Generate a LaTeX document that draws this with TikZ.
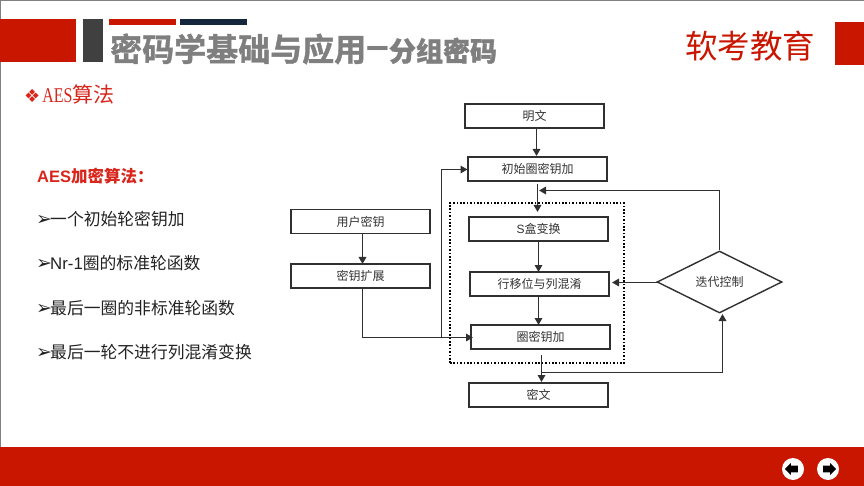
\documentclass[tikz,border=0pt]{standalone}
\usepackage{fontspec}
\usepackage{graphicx}
\setmainfont{Liberation Sans}
\newfontfamily\cjk{Noto Sans CJK SC}
\newfontfamily\cjkb{Noto Sans CJK SC Bold}
\newfontfamily\titlefont[FakeBold=1.2]{Noto Sans CJK SC Bold}
\newfontfamily\serifl{Liberation Serif}
\newfontfamily\dejavu{DejaVu Sans}
\usetikzlibrary{arrows.meta,shapes.geometric,shapes.arrows}
\definecolor{brandred}{HTML}{C91600}
\definecolor{darkgray}{HTML}{404040}
\definecolor{navybar}{HTML}{14273D}
\definecolor{titlegray}{HTML}{7F7F7F}
\definecolor{linegray}{HTML}{303030}
\definecolor{bodyblack}{HTML}{222222}
\definecolor{textred}{HTML}{D8261C}
\tikzset{
  flowbox/.style={draw=linegray,line width=1.4pt,fill=white,minimum width=139pt,minimum height=24pt,inner sep=0pt,font=\cjk\fontsize{12}{12}\selectfont,text=black!80},
  decision/.style={diamond,draw=linegray,line width=1.4pt,fill=white,minimum width=125pt,minimum height=62pt,aspect=2,inner sep=0pt,font=\cjk\fontsize{12}{12}\selectfont,text=black!80},
  link/.style={draw=linegray,line width=1.6pt},
  linkarrow/.style={link,-{Triangle[width=7.5pt,length=7pt]}},
  bullet/.style={anchor=west,inner sep=0pt,font=\cjk\fontsize{16.8}{17}\selectfont,text=bodyblack},
  blockfill/.style={fill=brandred,draw=none},
  navbtn/.style={circle,fill=white,draw=none,minimum size=22pt,inner sep=0pt},
  navarrow/.style={single arrow,fill=black,draw=none,minimum width=12pt,minimum height=13pt,single arrow head extend=2pt,inner sep=2.5pt}
}
\newcommand{\lat}[1]{{\rmfamily #1}}
\newcommand{\mk}{\makebox[14pt][l]{\dejavu\fontsize{19}{19}\selectfont\symbol{"27A2}}}
\begin{document}
\begin{tikzpicture}[x=1pt,y=-1pt]
\useasboundingbox (0,0) rectangle (864,486);
\fill[white] (0,0) rectangle (864,486);
% frame and header
\fill[gray] (0,0) rectangle (864,1);
\fill[gray] (0,0) rectangle (1,447);
\fill[blockfill] (0,19) rectangle (76,62);
\fill[darkgray] (83,19) rectangle (103,62);
\fill[blockfill] (109,19) rectangle (176,25);
\fill[navybar] (180,19) rectangle (247,25);
\fill[blockfill] (835,22) rectangle (864,65);
\fill[blockfill] (0,447) rectangle (864,486);
\node[anchor=west,inner sep=0pt,text=titlegray] (title) at (110,49) {\titlefont\fontsize{32}{32}\selectfont 密码学基础与应用\rmfamily\bfseries\fontsize{41}{41}\selectfont\raisebox{2pt}{–}\titlefont\fontsize{27}{27}\selectfont 分组密码};
\node[anchor=west,inner sep=0pt,text=brandred] (brand) at (685,46) {\cjk\fontsize{32.5}{32.5}\selectfont 软考教育};
\node[anchor=west,inner sep=0pt,text=textred] (sect) at (24,94) {{\dejavu\fontsize{18}{18}\selectfont\symbol{"2756}}\hspace{2pt}{\serifl\fontsize{21}{21}\selectfont\scalebox{0.76}[1]{AES}}{\cjk\fontsize{21}{21}\selectfont 算法}};
% left list
\node[anchor=west,inner sep=0pt,text=textred] (head) at (37,176) {\bfseries\fontsize{16.5}{16.5}\selectfont AES\cjkb 加密算法：};
\node[bullet] (l1) at (36,219) {\mk 一个初始轮密钥加};
\node[bullet] (l2) at (36,263) {\mk\lat{Nr-1}圈的标准轮函数};
\node[bullet] (l3) at (36,308) {\mk 最后一圈的非标准轮函数};
\node[bullet] (l4) at (36,352) {\mk 最后一轮不进行列混淆变换};
% dotted group
\node[draw=black,line width=1.6pt,dash pattern=on 1.6pt off 1.8pt,minimum width=174pt,minimum height=160pt,inner sep=0pt] (group) at (537,283) {};
% boxes
\node[flowbox] (plain) at (534.5,116) {明文};
\node[flowbox] (init) at (537.5,169) {初始圈密钥加};
\node[flowbox] (sbox) at (538.5,229) {\lat{S}盒变换};
\node[flowbox] (mix) at (539.5,284) {行移位与列混淆};
\node[flowbox] (ark) at (540.5,337) {圈密钥加};
\node[flowbox] (cipher) at (538.5,395) {密文};
\node[flowbox] (ukey) at (360.5,221.5) {用户密钥};
\node[flowbox] (expand) at (360.5,276) {密钥扩展};
\node[decision] (ctrl) at (719.5,282) {迭代控制};
% helper points
\coordinate (a1) at (536.5,128);
\coordinate (a2) at (536.5,156);
\coordinate (b1) at (537.5,184);
\coordinate (b2) at (537.5,212);
\coordinate (fb) at (539,190.5);
\coordinate (c1) at (538.5,241);
\coordinate (c2) at (538.5,272);
\coordinate (d2) at (538.5,325);
\coordinate (d1) at (538.5,296);
\coordinate (e1) at (541.5,355);
\coordinate (e2) at (541.5,382);
\coordinate (f1) at (541.5,372.5);
\coordinate (f2) at (722.5,372.5);
\coordinate (f3) at (722.5,314);
\coordinate (g2) at (612,282.5);
\coordinate (gs) at (657,282.5);
\coordinate (k1) at (362.5,233.5);
\coordinate (k2) at (362.5,264);
\coordinate (k3) at (362.5,288);
\coordinate (k4) at (362.5,337.5);
\coordinate (k5) at (473,337.5);
\coordinate (j1) at (441.5,337.5);
\coordinate (j2) at (441.5,169.5);
\coordinate (j3) at (467.5,169.5);
% connectors
\draw[linkarrow] (a1) -- (a2);
\draw[linkarrow] (b1) -- (b2);
\draw[linkarrow] (ctrl.north) |- (fb);
\draw[linkarrow] (c1) -- (c2);
\draw[linkarrow] (d1) -- (d2);
\draw[linkarrow] (e1) -- (e2);
\draw[link] (f1) -- (f2);
\draw[linkarrow] (f2) -- (f3);
\draw[linkarrow] (gs) -- (g2);
\draw[linkarrow] (k1) -- (k2);
\draw[link] (k3) -- (k4);
\draw[linkarrow] (k4) -- (k5);
\draw[link] (j1) -- (j2);
\draw[linkarrow] (j2) -- (j3);
% navigation buttons
\node[navbtn] (prev) at (793,469) {};
\node[navbtn] (next) at (828,469) {};
\node[navarrow,shape border rotate=180] (prevarrow) at (793,469) {};
\node[navarrow] (nextarrow) at (828,469) {};
\end{tikzpicture}
\end{document}
